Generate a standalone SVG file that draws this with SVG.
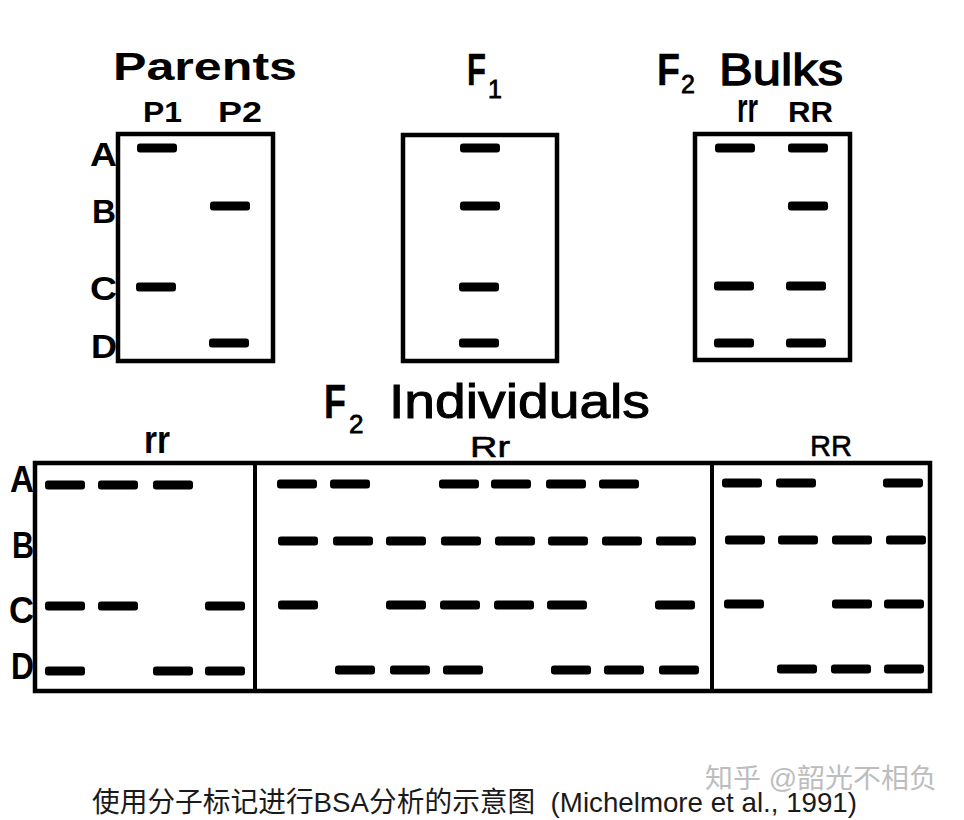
<svg xmlns="http://www.w3.org/2000/svg" width="964" height="820" viewBox="0 0 964 820">
<style>
.box{fill:none;stroke:#000;stroke-width:4.5}
.band{fill:#000}
.t{font-family:"Liberation Sans",Arial,sans-serif;fill:#000}
.title{font-size:37px;font-weight:bold}
.lab{font-weight:bold}
.big{stroke:#000;stroke-width:1.3}
.fb{font-weight:bold;stroke-width:0.4}
.cap{font-family:"Liberation Sans","Noto Sans CJK SC",sans-serif;font-size:28px;fill:#1a1a1a}
.wm{font-family:"Liberation Sans","Noto Sans CJK SC",sans-serif;font-size:27px;fill:#bdbdbd}
</style>
<defs>
<rect id="b" x="0" y="-4.5" width="40" height="9" rx="3" class="band"/>
</defs>
<rect width="964" height="820" fill="#fff"/>

<g id="parents">
<text class="t title" x="113" y="80" style="font-size:38px" textLength="184" lengthAdjust="spacingAndGlyphs">Parents</text>
<text class="t lab" x="143" y="122" style="font-size:30px" textLength="39" lengthAdjust="spacingAndGlyphs">P1</text>
<text class="t lab" x="218" y="122" style="font-size:30px" textLength="44" lengthAdjust="spacingAndGlyphs">P2</text>
<text class="t lab" x="90" y="166" style="font-size:33px" textLength="27" lengthAdjust="spacingAndGlyphs">A</text>
<text class="t lab" x="92" y="223" style="font-size:33px" textLength="24" lengthAdjust="spacingAndGlyphs">B</text>
<text class="t lab" x="90" y="300" style="font-size:33px" textLength="27" lengthAdjust="spacingAndGlyphs">C</text>
<text class="t lab" x="91" y="358" style="font-size:33px" textLength="26" lengthAdjust="spacingAndGlyphs">D</text>
<rect class="box" x="118" y="134" width="155" height="227"/>
<use href="#b" x="137" y="148"/>
<use href="#b" x="210" y="206"/>
<use href="#b" x="136" y="287"/>
<use href="#b" x="209" y="343"/>
</g>

<g id="f1">
<text class="t big" style="font-size:45px"><tspan class="fb" x="467" y="85" textLength="19" lengthAdjust="spacingAndGlyphs">F</tspan><tspan x="488" y="98" style="font-size:25px;stroke-width:0.8">1</tspan></text>
<rect class="box" x="403" y="135" width="154" height="226"/>
<use href="#b" x="460" y="148"/>
<use href="#b" x="460" y="206"/>
<use href="#b" x="459" y="287"/>
<use href="#b" x="459" y="343"/>
</g>

<g id="f2bulks">
<text class="t big" style="font-size:45px"><tspan class="fb" x="657" y="85" textLength="23" lengthAdjust="spacingAndGlyphs">F</tspan><tspan x="681" y="93" style="font-size:25px;stroke-width:0.8">2</tspan><tspan x="719" y="85" textLength="124" lengthAdjust="spacingAndGlyphs">Bulks</tspan></text>
<text class="t lab" x="737" y="122" style="font-size:40px" textLength="21" lengthAdjust="spacingAndGlyphs">rr</text>
<text class="t lab" x="788" y="122" style="font-size:30px" textLength="45" lengthAdjust="spacingAndGlyphs">RR</text>
<rect class="box" x="695" y="134" width="155" height="226"/>
<use href="#b" x="715" y="148"/>
<use href="#b" x="788" y="148"/>
<use href="#b" x="788" y="206"/>
<use href="#b" x="714" y="286"/>
<use href="#b" x="786" y="286"/>
<use href="#b" x="714" y="343"/>
<use href="#b" x="786" y="343"/>
</g>

<g id="f2individuals">
<text class="t big" style="font-size:48px;stroke-width:1"><tspan class="fb" x="324" y="418" textLength="22" lengthAdjust="spacingAndGlyphs">F</tspan><tspan x="349" y="433" style="font-size:26px;stroke-width:0.8">2</tspan><tspan x="389" y="418" textLength="261" lengthAdjust="spacingAndGlyphs">Individuals</tspan></text>
<text class="t lab" x="144" y="453" style="font-size:38px" textLength="26" lengthAdjust="spacingAndGlyphs">rr</text>
<text class="t" x="470" y="457" style="font-size:30px;stroke:#000;stroke-width:0.6" textLength="40" lengthAdjust="spacingAndGlyphs">Rr</text>
<text class="t" x="810" y="456" style="font-size:30px;stroke:#000;stroke-width:0.6" textLength="42" lengthAdjust="spacingAndGlyphs">RR</text>
<text class="t lab" x="10" y="492" style="font-size:37px" textLength="24" lengthAdjust="spacingAndGlyphs">A</text>
<text class="t lab" x="12" y="558" style="font-size:37px" textLength="22" lengthAdjust="spacingAndGlyphs">B</text>
<text class="t lab" x="9" y="623" style="font-size:37px" textLength="25" lengthAdjust="spacingAndGlyphs">C</text>
<text class="t lab" x="11" y="679" style="font-size:37px" textLength="23" lengthAdjust="spacingAndGlyphs">D</text>
<rect class="box" x="35" y="463" width="895" height="228"/>
<line x1="255" y1="463" x2="255" y2="691" stroke="#000" stroke-width="4"/>
<line x1="712" y1="463" x2="712" y2="691" stroke="#000" stroke-width="4"/>
<use href="#b" x="45" y="485"/><use href="#b" x="98" y="485"/><use href="#b" x="153" y="485"/>
<use href="#b" x="45" y="606"/><use href="#b" x="98" y="606"/><use href="#b" x="205" y="606"/>
<use href="#b" x="45" y="671"/><use href="#b" x="153" y="671"/><use href="#b" x="205" y="671"/>
<use href="#b" x="277" y="484"/><use href="#b" x="330" y="484"/><use href="#b" x="439" y="484"/><use href="#b" x="491" y="484"/><use href="#b" x="546" y="484"/><use href="#b" x="599" y="484"/>
<use href="#b" x="278" y="541"/><use href="#b" x="333" y="541"/><use href="#b" x="386" y="541"/><use href="#b" x="441" y="541"/><use href="#b" x="495" y="541"/><use href="#b" x="548" y="541"/><use href="#b" x="602" y="541"/><use href="#b" x="656" y="541"/>
<use href="#b" x="278" y="605"/><use href="#b" x="386" y="605"/><use href="#b" x="440" y="605"/><use href="#b" x="494" y="605"/><use href="#b" x="547" y="605"/><use href="#b" x="655" y="605"/>
<use href="#b" x="335" y="670"/><use href="#b" x="390" y="670"/><use href="#b" x="443" y="670"/><use href="#b" x="551" y="670"/><use href="#b" x="604" y="670"/><use href="#b" x="659" y="670"/>
<use href="#b" x="722" y="483"/><use href="#b" x="776" y="483"/><use href="#b" x="883" y="483"/>
<use href="#b" x="725" y="540"/><use href="#b" x="778" y="540"/><use href="#b" x="832" y="540"/><use href="#b" x="886" y="540"/>
<use href="#b" x="724" y="604"/><use href="#b" x="832" y="604"/><use href="#b" x="884" y="604"/>
<use href="#b" x="777" y="669"/><use href="#b" x="831" y="669"/><use href="#b" x="884" y="669"/>
</g>

<g id="caption">
<text class="wm" x="705" y="788" textLength="232" lengthAdjust="spacingAndGlyphs">知乎 @韶光不相负</text>
<text class="cap" x="92" y="812" xml:space="preserve" textLength="765" lengthAdjust="spacingAndGlyphs">使用分子标记进行BSA分析的示意图  (Michelmore et al., 1991)</text>
</g>
</svg>
